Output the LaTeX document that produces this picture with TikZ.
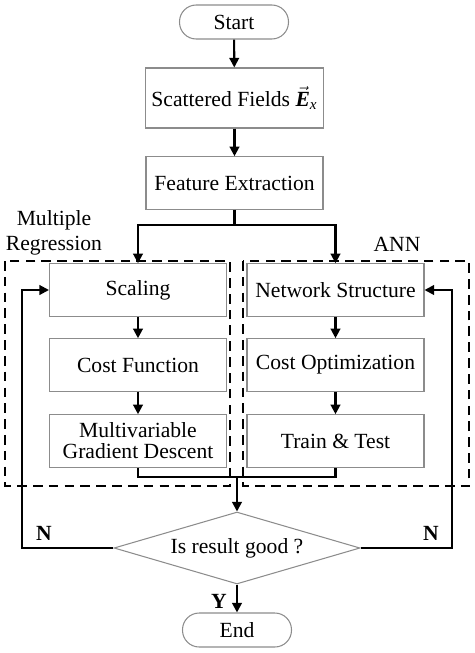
\documentclass[tikz,border=0pt]{standalone}
\usepackage{amsmath}
\usepackage{fontspec}
\setmainfont{Liberation Serif}
\usetikzlibrary{arrows.meta, positioning, shapes.geometric}

\begin{document}
\begin{tikzpicture}[x=0.02cm, y=-0.02cm, >={Triangle[length=5.5pt, width=5.5pt]},
    font=\fontsize{12.3}{14}\selectfont,
    box/.style={draw=black!45, line width=0.6pt, minimum width=3.54cm, minimum height=1.05cm, align=center},
    term/.style={draw=black!45, line width=0.6pt, rounded corners=9.5pt, minimum width=2.18cm, minimum height=0.68cm},
    flow/.style={line width=1.2pt, black},
    group/.style={dashed, dash pattern=on 5.5pt off 3.5pt, line width=0.9pt}]
      \useasboundingbox (0,0) rectangle (474,653);
      % main column
      \node[term] (start) at (234,22) {Start};
      \node[box, minimum height=1.2cm] (fields) at (234.5,98) {Scattered Fields $\vec{\textbf{\textit{E}}}_{\textit{x}}$};
      \node[box] (feature) at (234.5,183) {Feature Extraction};
      % multiple regression branch
      \node[box] (scaling) at (138,290) {Scaling};
      \node[box] (costfn) at (138,365) {Cost Function};
      \node[box] (mgd) at (138,441) {Multivariable\\[-2pt]Gradient Descent};
      % ANN branch
      \node[box] (netstr) at (335.5,290) {Network Structure};
      \node[box] (costopt) at (335.5,365) {Cost Optimization};
      \node[box] (train) at (335.5,441) {Train \& Test};
      % decision and end
      \node[diamond, draw=black!45, line width=0.6pt, aspect=3.4, inner sep=0pt,
            minimum width=4.92cm, minimum height=1.44cm] (check) at (237,548) {Is result good ?};
      \node[term] (stop) at (237,630) {End};
      % groups
      \draw[group] (5,261) rectangle (230,486);
      \draw[group] (243,261) rectangle (469,486);
      \node[align=center] (mrlabel) at (54,233) {Multiple\\Regression};
      \node (annlabel) at (397,244) {ANN};
      % connectors
      \coordinate (split) at (234.5,225);
      \coordinate (merge) at (237,477);
      \coordinate (backL) at (22,548);
      \coordinate (backR) at (452,548);
      \draw[flow, ->] (start) -- (fields);
      \draw[flow, ->] (fields) -- (feature);
      \draw[flow] (feature) -- (split);
      \draw[flow, ->] (split) -| (scaling);
      \draw[flow, ->] (split) -| (netstr);
      \draw[flow, ->] (scaling) -- (costfn);
      \draw[flow, ->] (costfn) -- (mgd);
      \draw[flow, ->] (netstr) -- (costopt);
      \draw[flow, ->] (costopt) -- (train);
      \draw[flow] (mgd) |- (merge) -| (train);
      \draw[flow, ->] (merge) -- (check);
      \draw[flow, ->] (check.west) -- (backL) |- (scaling);
      \draw[flow, ->] (check.east) -- (backR) |- (netstr);
      \draw[flow, ->] (check) -- (stop);
      \node[font=\fontsize{12.3}{14}\selectfont\bfseries] (nleft) at (44,533) {N};
      \node[font=\fontsize{12.3}{14}\selectfont\bfseries] (nright) at (431,533) {N};
      \node[font=\fontsize{12.3}{14}\selectfont\bfseries] (yes) at (219,601) {Y};
\end{tikzpicture}
\end{document}
